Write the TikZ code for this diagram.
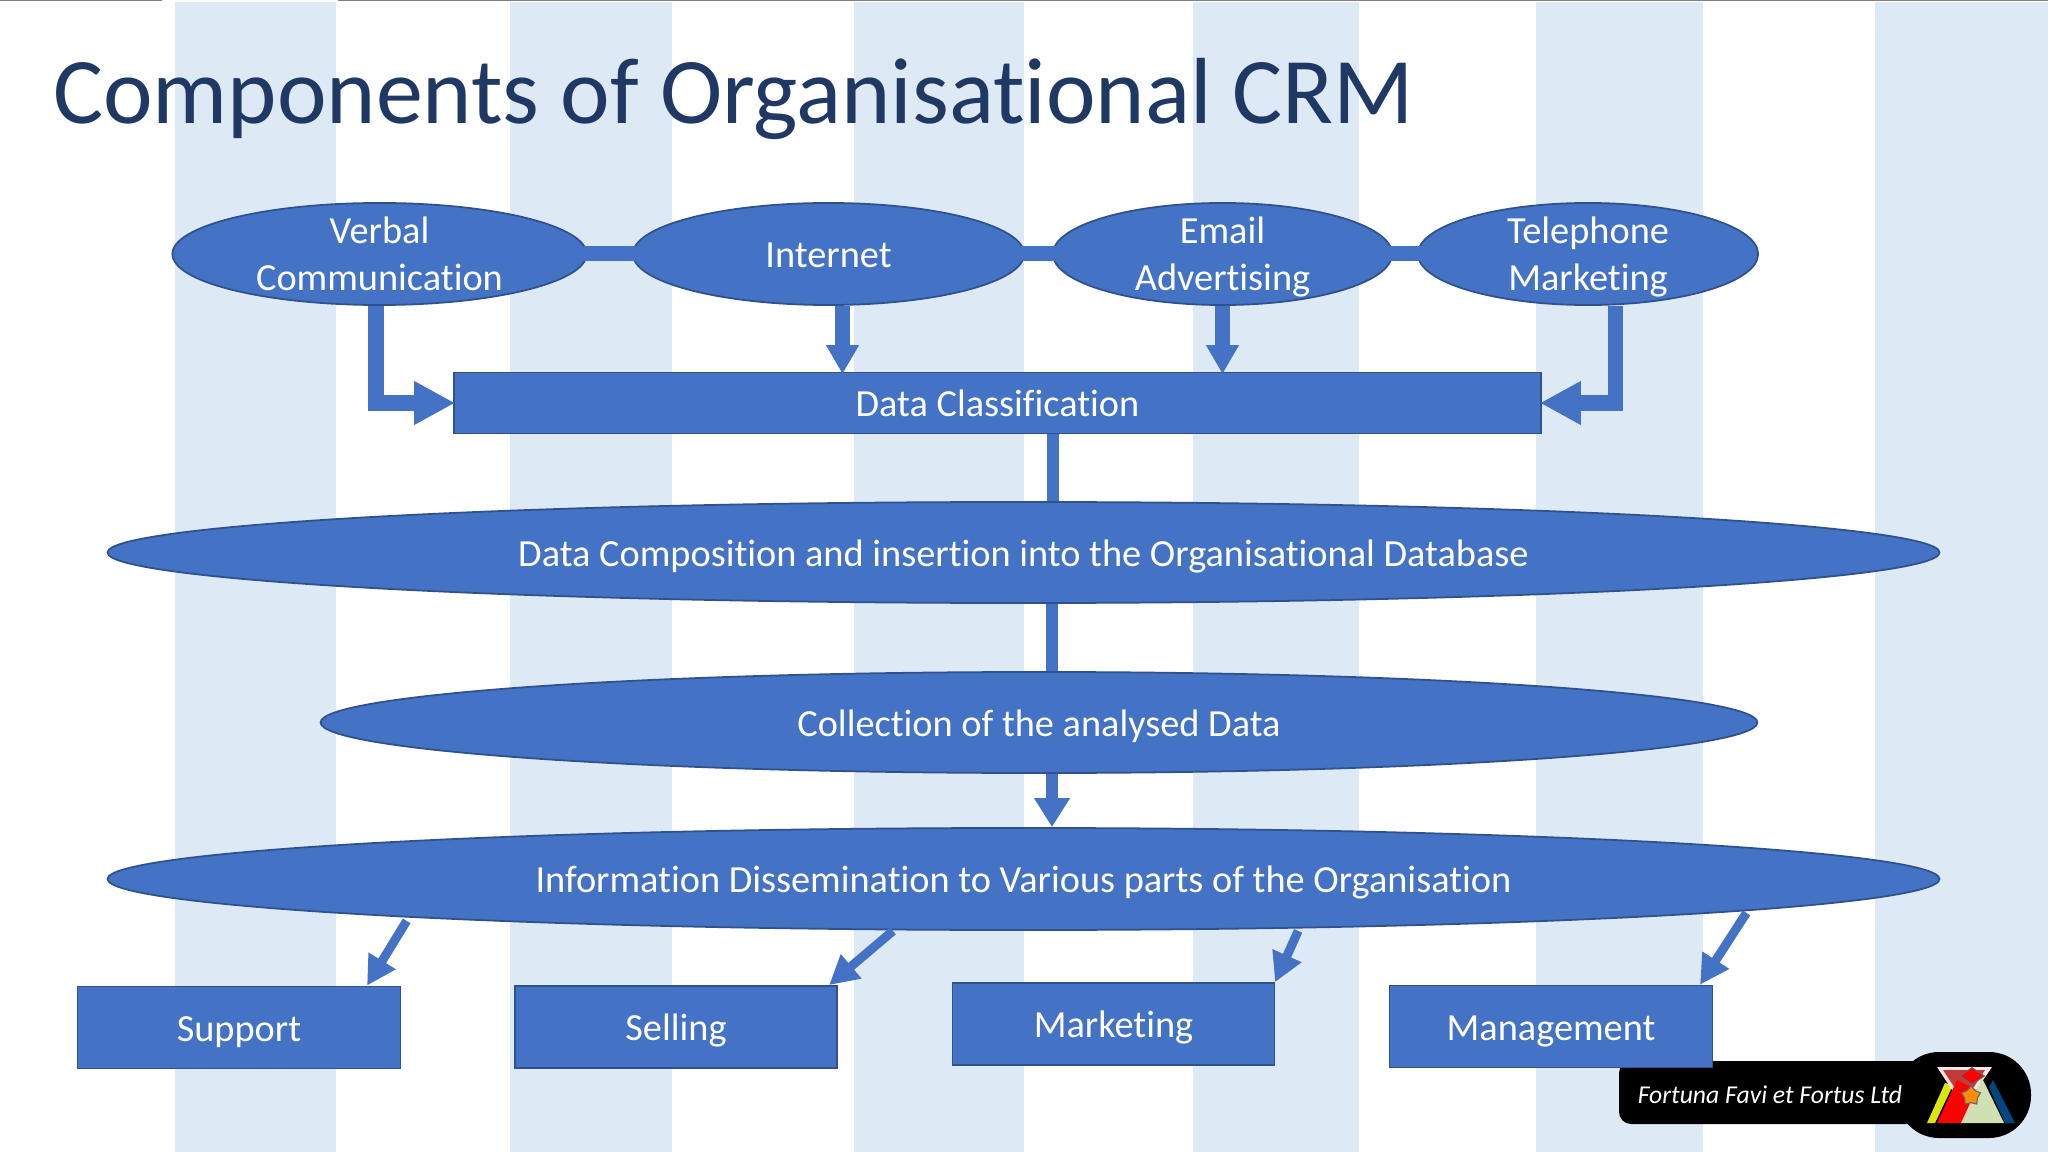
\documentclass[tikz,border=0pt]{standalone}
\usepackage{fontspec}
\usepackage{xcolor}
\setmainfont{Carlito}[Ligatures=NoCommon]
\usetikzlibrary{arrows.meta,shapes.geometric}
\definecolor{stripeblue}{HTML}{DEE9F6}
\definecolor{shapeblue}{HTML}{4472C4}
\definecolor{edgeblue}{HTML}{2F528F}
\definecolor{titleblue}{HTML}{1F3864}
\newcommand{\linestrut}{\rule[-2.6pt]{0pt}{12.6pt}}
\tikzset{
	oval/.style={ellipse,draw=edgeblue,fill=shapeblue,line width=0.5pt,text=white,inner sep=-0.6cm,align=center,font=\fontsize{10.9}{13.1}\selectfont},
	block/.style={rectangle,draw=edgeblue,fill=shapeblue,line width=0.5pt,text=white,inner sep=0pt,text height=10pt,text depth=2.2pt,font=\fontsize{10.9}{13.1}\selectfont},
	lowtext/.style={text height=10pt,text depth=2.2pt},
	bar/.style={draw=shapeblue,line width=0.15cm},
	link/.style={bar,shorten >=-1pt,shorten <=-1pt},
	bigflow/.style={bar,shorten >=-0.5pt,-{Triangle[length=0.41cm,width=0.41cm]}},
	smallflow/.style={bar,shorten >=-0.7pt,-{Triangle[length=0.29cm,width=0.31cm]}},
	thinflow/.style={draw=shapeblue,line width=0.09cm,-{Triangle[length=0.29cm,width=0.3cm]}},
}
\begin{document}
\begin{tikzpicture}[x=0.01cm,y=-0.01cm]
		\useasboundingbox (0,0) rectangle (2048,1152);
		\fill[white] (0,0) rectangle (2048,1152);
		
		\foreach \a/\b in {175/336,510/672,854/1024,1193/1359,1536/1703,1875/2048}{
			\fill[stripeblue] (\a,2) rectangle (\b,1152);
		}
		\fill[gray] (0,0) rectangle (162,1.5);
		\fill[gray] (338,0) rectangle (2048,1.5);
		
		\node[anchor=base west,text=titleblue,inner sep=0pt,font=\fontsize{26.72}{30}\selectfont] (title) at (52.5,124) {Components of Organisational CRM};
		
		\node[oval,minimum width=4.14cm,minimum height=1.02cm] (verbal) at (379.5,254) {\linestrut Verbal\\\linestrut Communication};
		\node[oval,lowtext,minimum width=3.91cm,minimum height=1.02cm] (internet) at (828.5,254) {Internet};
		\node[oval,minimum width=3.39cm,minimum height=1.02cm] (email) at (1222.5,254) {\linestrut Email\\\linestrut Advertising};
		\node[oval,minimum width=3.40cm,minimum height=1.02cm] (telephone) at (1588,254) {\linestrut Telephone\\\linestrut Marketing};
		
		\node[block,minimum width=10.86cm,minimum height=0.61cm] (classify) at (997.5,403) {Data Classification};
		
		\node[oval,lowtext,minimum width=18.31cm,minimum height=1.01cm] (database) at (1023.5,552.5) {Data Composition and insertion into the Organisational Database};
		\node[oval,lowtext,minimum width=14.36cm,minimum height=1.01cm] (collection) at (1039,722.5) {Collection of the analysed Data};
		\node[oval,lowtext,minimum width=18.31cm,minimum height=1.02cm] (dissemination) at (1023.5,879) {Information Dissemination to Various parts of the Organisation};
		
		\node[block,minimum width=3.23cm,minimum height=0.82cm] (support) at (239,1027.5) {Support};
		\node[block,minimum width=3.22cm,minimum height=0.82cm] (selling) at (676,1027) {Selling};
		\node[block,minimum width=3.22cm,minimum height=0.82cm] (marketing) at (1113.5,1024) {Marketing};
		
		% badge in the corner, under the last box
		\fill[black,rounded corners=0.12cm] (1619,1061) rectangle (1960,1124);
		\fill[black,rounded corners=0.42cm] (1897,1052) rectangle (2031,1138);
		\node[text=white,inner sep=0pt,font=\fontsize{7.3}{9}\itshape] (company) at (1770,1095) {Fortuna Favi et Fortus Ltd};
		\fill[yellow!85!green] (1927,1123) -- (1935,1123) -- (1953,1085) -- (1945,1083) -- cycle;
		\fill[white!90!red] (1937,1067) -- (1992,1067) -- (1964,1108) -- cycle;
		\fill[red!55!gray] (1943,1070) -- (1985,1070) -- (1964,1102) -- cycle;
		\fill[red] (1937,1123) -- (1962,1123) -- (1980,1092) -- (1957,1080) -- cycle;
		\fill[green!20!olive!30!white] (1961,1123) -- (2004,1123) -- (1982,1078) -- cycle;
		\fill[blue!45!cyan!50!black] (2005,1123) -- (2015,1123) -- (1993,1080) -- (1989,1087) -- cycle;
		\node[diamond,draw=black!60,fill=red,line width=0.3pt,minimum width=0.25cm,minimum height=0.17cm,inner sep=0pt] (mark) at (1972,1076) {};
		\node[star,star points=5,draw=black!60,fill=orange!90!yellow,line width=0.3pt,minimum size=0.2cm,inner sep=0pt] (badge) at (1971,1096) {};
		
		\node[block,minimum width=3.23cm,minimum height=0.82cm] (management) at (1551,1026.5) {Management};
		
		\draw[link] (verbal) -- (internet);
		\draw[link] (internet) -- (email);
		\draw[link] (email) -- (telephone);
		
		\draw[bigflow] ([xshift=-0.035cm]verbal.south) |- (classify.west);
		\draw[bigflow] ([xshift=0.27cm]telephone.south) |- (classify.east);
		\draw[smallflow] ([xshift=0.14cm]internet.south) -- ([xshift=0.14cm]internet.south |- classify.north);
		\draw[smallflow] (email.south) -- (email.south |- classify.north);
		
		\draw[bar,line width=0.12cm] ([xshift=0.55cm]classify.south) -- ([xshift=0.55cm]classify.south |- database.north);
		\draw[bar,line width=0.12cm] ([xshift=0.285cm]database.south) -- ([xshift=0.285cm]database.south |- collection.north);
		\draw[bar,line width=0.12cm,-{Triangle[length=0.29cm,width=0.34cm]}] ([xshift=0.13cm]collection.south) -- ([xshift=0.13cm]collection.south |- dissemination.north);
		
		\draw[thinflow] ([xshift=-6.165cm,yshift=0.1cm]dissemination.south) -- ([xshift=1.28cm]support.north);
		\draw[thinflow] ([xshift=-1.305cm]dissemination.south) -- ([xshift=1.53cm]selling.north);
		\draw[thinflow] ([xshift=2.745cm]dissemination.south) -- ([xshift=1.615cm]marketing.north);
		\draw[thinflow] ([xshift=7.225cm,yshift=0.18cm]dissemination.south) -- ([xshift=1.49cm]management.north);
	\end{tikzpicture}
\end{document}
